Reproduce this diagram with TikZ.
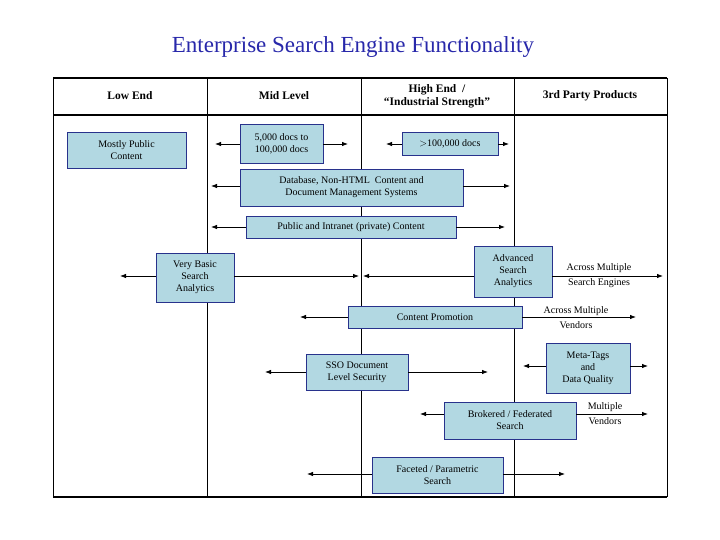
\documentclass[tikz,border=0pt]{standalone}
\usepackage{fontspec}
\setmainfont{Liberation Serif}
\usetikzlibrary{arrows.meta}
\definecolor{boxfill}{RGB}{178,216,226}
\definecolor{boxline}{RGB}{40,50,140}
\definecolor{titleblue}{RGB}{40,40,170}
\begin{document}
\begin{tikzpicture}[x=1pt,y=-1pt,
  box/.style={draw=boxline,fill=boxfill,line width=0.9pt,inner sep=0pt,align=center,font=\fontsize{10}{12}\selectfont},
  lbl/.style={align=center,font=\fontsize{10}{12}\selectfont,inner sep=0pt},
  hdr/.style={align=center,font=\bfseries\fontsize{11.5}{13}\selectfont},
  arr/.style={-{Latex[length=6pt,width=4.5pt]},line width=0.8pt}]
\useasboundingbox (0,0) rectangle (720,540);
\node[font=\fontsize{23}{27}\selectfont,text=titleblue] (title) at (353,47) {Enterprise Search Engine Functionality};
% table
\draw[line width=1.6pt] (53,78) -- (667,78);
\draw[line width=1.2pt] (53,115) -- (667,115);
\draw[line width=2.2pt] (53,497) -- (667,497);
\draw[line width=1pt] (53,78) -- (53,497);
\draw[line width=1pt] (667,78) -- (667,497);
\foreach \x in {207,361,514} \draw[line width=1pt] (\x,78) -- (\x,497);
\node[hdr] (h1) at (130,96) {Low End};
\node[hdr] (h2) at (284,96) {Mid Level};
\node[hdr] (h3) at (437,96) {High End\ \ /\\ ``Industrial Strength''};
\node[hdr] (h4) at (590,96) {3rd Party Products};
% coordinates for free arrow ends
\coordinate (a1l) at (215,144); \coordinate (a1r) at (348,144);
\coordinate (a2l) at (386,144); \coordinate (a2r) at (509,144);
\coordinate (a3l) at (211,186); \coordinate (a3r) at (510,186);
\coordinate (a4l) at (211,227); \coordinate (a4r) at (505,227);
\coordinate (a5l) at (120,276); \coordinate (a5r) at (359,276);
\coordinate (a6l) at (363,276); \coordinate (a6r) at (663,276);
\coordinate (a7l) at (300,317); \coordinate (a7r) at (636,317);
\coordinate (a8l) at (265,372); \coordinate (a8r) at (488,372);
\coordinate (a9l) at (523,366); \coordinate (a9r) at (648,366);
\coordinate (a10l) at (420,414); \coordinate (a10r) at (648,414);
\coordinate (a11l) at (307,474); \coordinate (a11r) at (565,474);
% boxes
\node[box,minimum width=119pt,minimum height=36pt] (b0) at (126.5,150) {Mostly Public\\ Content};
\node[box,minimum width=83pt,minimum height=39pt] (b1) at (281.5,143.5) {5,000 docs to\\ 100,000 docs};
\node[box,minimum width=96pt,minimum height=23pt] (b2) at (450,143.5) {$>$100,000 docs};
\node[box,minimum width=223pt,minimum height=37pt] (b3) at (351.5,187.5) {Database, Non-HTML\ \ Content and\\ Document Management Systems};
\node[box,minimum width=210pt,minimum height=22pt] (b4) at (351,227) {Public and Intranet (private) Content};
\node[box,minimum width=78pt,minimum height=49pt] (b5) at (195,277.5) {Very Basic\\ Search\\ Analytics};
\node[box,minimum width=78pt,minimum height=51pt] (b6) at (513,271.5) {Advanced\\ Search\\ Analytics};
\node[box,minimum width=174pt,minimum height=22pt] (b7) at (435,317) {Content Promotion};
\node[box,minimum width=102pt,minimum height=36pt] (b8) at (357,372) {SSO Document\\ Level Security};
\node[box,minimum width=84pt,minimum height=50pt] (b9) at (588,368) {Meta-Tags\\ and\\ Data Quality};
\node[box,minimum width=132pt,minimum height=37pt] (b10) at (510,420.5) {Brokered / Federated\\ Search};
\node[box,minimum width=131pt,minimum height=36pt] (b11) at (437.5,475) {Faceted / Parametric\\ Search};
% arrows
\draw[arr] (b1.west |- a1l) -- (a1l); \draw[arr] (b1.east |- a1r) -- (a1r);
\draw[arr] (b2.west |- a2l) -- (a2l); \draw[arr] (b2.east |- a2r) -- (a2r);
\draw[arr] (b3.west |- a3l) -- (a3l); \draw[arr] (b3.east |- a3r) -- (a3r);
\draw[arr] (b4.west |- a4l) -- (a4l); \draw[arr] (b4.east |- a4r) -- (a4r);
\draw[arr] (b5.west |- a5l) -- (a5l); \draw[arr] (b5.east |- a5r) -- (a5r);
\draw[arr] (b6.west |- a6l) -- (a6l); \draw[arr] (b6.east |- a6r) -- (a6r);
\draw[arr] (b7.west |- a7l) -- (a7l); \draw[arr] (b7.east |- a7r) -- (a7r);
\draw[arr] (b8.west |- a8l) -- (a8l); \draw[arr] (b8.east |- a8r) -- (a8r);
\draw[arr] (b9.west |- a9l) -- (a9l); \draw[arr] (b9.east |- a9r) -- (a9r);
\draw[arr] (b10.west |- a10l) -- (a10l); \draw[arr] (b10.east |- a10r) -- (a10r);
\draw[arr] (b11.west |- a11l) -- (a11l); \draw[arr] (b11.east |- a11r) -- (a11r);
% side labels
\node[lbl] (l1) at (599,276) {Across Multiple\\[3pt] Search Engines};
\node[lbl] (l2) at (576,317.5) {Across Multiple\\[3pt] Vendors};
\node[lbl] (l3) at (605,413.5) {Multiple\\[3pt] Vendors};
\end{tikzpicture}
\end{document}
